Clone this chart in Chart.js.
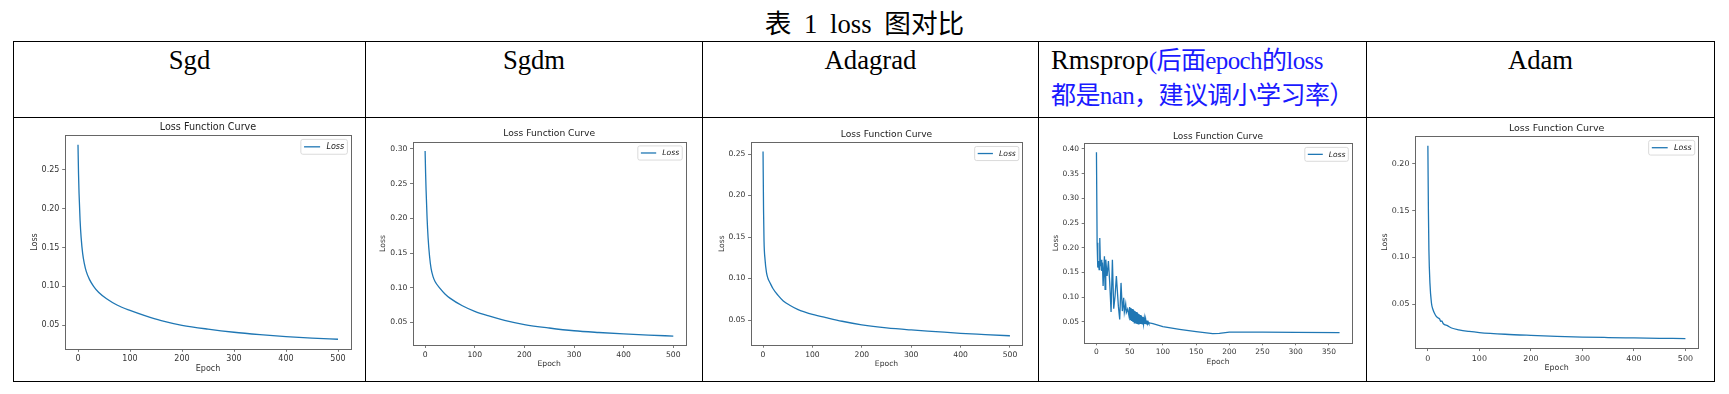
<!DOCTYPE html>
<html>
<head>
<meta charset="utf-8">
<script src="https://cdn.jsdelivr.net/npm/chart.js@4.4.0/dist/chart.umd.min.js"></script>
<style>
    body { margin: 0; background: #fff; width: 1729px; height: 394px; overflow: hidden; position: relative;
           font-family: "Liberation Serif", "Noto Sans CJK SC", serif; color: #000; }
    .title { position: absolute; left: 0; top: 9px; width: 1729px; text-align: center;
             font-size: 26.67px; line-height: 30px; word-spacing: 6px; }
    .cell { position: absolute; border: 1px solid #000; box-sizing: border-box; }
    .head { font-size: 26.67px; line-height: 35px; padding-top: 1px; text-align: center; }
    .head.left { text-align: left; padding-left: 12px; white-space: nowrap; }
    .note { color: #1a1aff; font-size: 25px; letter-spacing: -0.6px; }
    .plot { position: absolute; }
</style>
</head>
<body>
<div class="title">表 1 loss 图对比</div>
<div id="grid"></div>
<script>
    // table grid (px)
    var colEdges = [13, 365, 702, 1038, 1366, 1714];
    var rowEdges = [41, 117, 381];

    // values
    var sgdEpoch = [0, 1, 2, 4, 6, 9, 12, 16, 22, 30, 40, 55, 75, 100, 130, 160, 200, 250, 300, 350, 400, 450, 500];
    var sgdLoss = [0.282, 0.245, 0.220, 0.185, 0.163, 0.142, 0.130, 0.119, 0.109, 0.100, 0.092, 0.084, 0.076, 0.069, 0.062, 0.056, 0.050, 0.045, 0.041, 0.038, 0.0355, 0.0335, 0.032];

    var sgdmEpoch = [0, 1, 2, 4, 6, 9, 12, 16, 20, 30, 40, 50, 75, 100, 130, 160, 200, 250, 300, 350, 400, 450, 500];
    var sgdmLoss = [0.297, 0.265, 0.240, 0.200, 0.172, 0.145, 0.128, 0.116, 0.109, 0.099, 0.091, 0.085, 0.074, 0.066, 0.059, 0.053, 0.047, 0.042, 0.038, 0.0355, 0.0335, 0.0318, 0.0304];

    var adagradEpoch = [0, 1, 2, 4, 7, 10, 14, 20, 30, 41, 55, 70, 85, 100, 130, 160, 200, 250, 300, 350, 400, 450, 500];
    var adagradLoss = [0.253, 0.183, 0.145, 0.123, 0.107, 0.100, 0.095, 0.088, 0.080, 0.073, 0.0675, 0.0628, 0.0595, 0.0568, 0.0525, 0.0485, 0.0442, 0.0405, 0.038, 0.036, 0.034, 0.0325, 0.031];

    var rmsEpoch = [0, 1, 2, 3, 4, 5, 6, 7, 8, 9, 10, 12, 13, 14, 16, 18, 20, 22, 24, 26, 28, 30, 32, 33, 35, 37, 39, 41, 42, 44, 45, 47, 49,
        50, 51, 52, 53, 54, 55, 56, 57, 58, 59, 60, 61, 62, 63, 64, 65, 66, 67, 68, 69, 70, 71, 72, 73, 74, 75, 76, 77, 78, 79, 80,
        85, 100, 125, 150, 175, 185, 200, 250, 300, 366];
    var rmsLoss = [0.393, 0.210, 0.160, 0.173, 0.156, 0.220, 0.163, 0.176, 0.153, 0.170, 0.123, 0.183, 0.116, 0.176, 0.143, 0.173, 0.129, 0.070, 0.176, 0.077, 0.102, 0.143, 0.102, 0.082, 0.055, 0.129, 0.072, 0.099, 0.070, 0.086, 0.069, 0.076, 0.062,
        0.080, 0.055, 0.078, 0.052, 0.076, 0.050, 0.074, 0.048, 0.072, 0.047, 0.070, 0.046, 0.068, 0.046, 0.066, 0.046, 0.064, 0.046, 0.062, 0.046, 0.060, 0.046, 0.058, 0.046, 0.056, 0.046, 0.053, 0.046, 0.050, 0.047, 0.048,
        0.0467, 0.0406, 0.0352, 0.0305, 0.0264, 0.027, 0.0295, 0.0295, 0.029, 0.0285];

    var adamEpoch = [0, 1, 2, 4, 7, 10, 14, 18, 21, 23, 25, 27, 30, 38, 46, 60, 80, 100, 150, 200, 250, 300, 350, 400, 450, 500];
    var adamLoss = [0.2196, 0.151, 0.108, 0.0725, 0.051, 0.044, 0.039, 0.036, 0.035, 0.034, 0.0315, 0.032, 0.029, 0.027, 0.0245, 0.0225, 0.0208, 0.0196, 0.0178, 0.0166, 0.0156, 0.0148, 0.0143, 0.0139, 0.0135, 0.0131];

    var xTicks500 = [0, 100, 200, 300, 400, 500];
    var xTicks350 = [0, 50, 100, 150, 200, 250, 300, 350];
    var yTicksSgd = [0.05, 0.10, 0.15, 0.20, 0.25];
    var yTicksSgdm = [0.05, 0.10, 0.15, 0.20, 0.25, 0.30];
    var yTicksAdagrad = [0.05, 0.10, 0.15, 0.20, 0.25];
    var yTicksRms = [0.05, 0.10, 0.15, 0.20, 0.25, 0.30, 0.35, 0.40];
    var yTicksAdam = [0.05, 0.10, 0.15, 0.20];

    var headers = [
        'Sgd',
        'Sgdm',
        'Adagrad',
        'Rmsprop<span class="note">(后面epoch的loss<br>都是nan，建议调小学习率）</span>',
        'Adam'
    ];

    // plot area inside each canvas: l/r/t/b, title y, "Epoch" y, "Loss" x
    var panels = [
        { epoch: sgdEpoch, loss: sgdLoss, xTicks: xTicks500, yTicks: yTicksSgd, smooth: true, pos: { l: 51, r: 337, t: 17, b: 231, ty: 10, ey: 251, lx: 21 } },
        { epoch: sgdmEpoch, loss: sgdmLoss, xTicks: xTicks500, yTicks: yTicksSgdm, smooth: true, pos: { l: 46.7, r: 319.7, t: 23.7, b: 227.3, ty: 16, ey: 246, lx: 17 } },
        { epoch: adagradEpoch, loss: adagradLoss, xTicks: xTicks500, yTicks: yTicksAdagrad, smooth: true, pos: { l: 47.7, r: 319.3, t: 24.3, b: 227, ty: 17, ey: 246, lx: 19 } },
        { epoch: rmsEpoch, loss: rmsLoss, xTicks: xTicks350, yTicks: yTicksRms, smooth: false, pos: { l: 45.3, r: 312.7, t: 25.3, b: 224.7, ty: 18.7, ey: 243.7, lx: 16.7 } },
        { epoch: adamEpoch, loss: adamLoss, xTicks: xTicks500, yTicks: yTicksAdam, smooth: true, pos: { l: 48, r: 331.3, t: 18, b: 230.3, ty: 10.3, ey: 249.7, lx: 18 } }
    ];

    // matplotlib box + legend in upper right
    const mplFrame = {
        id: 'mplFrame',
        afterDraw: function (chart, args, opts) {
            const a = chart.chartArea, ctx = chart.ctx;
            ctx.save();
            ctx.strokeStyle = '#666';
            ctx.lineWidth = 1;
            ctx.strokeRect(Math.round(a.left) + 0.5, Math.round(a.top) + 0.5,
                Math.round(a.right) - Math.round(a.left), Math.round(a.bottom) - Math.round(a.top));

            const em = opts.em;
            const ds = chart.data.datasets[0];
            ctx.font = 'italic ' + em + 'px "DejaVu Sans"';
            const tw = ctx.measureText(ds.label).width;
            const pad = 0.4 * em, hl = 2 * em, gap = 0.8 * em;
            const bw = pad + hl + gap + tw + pad, bh = 2 * pad + em * 1.05;
            const bx = a.right - 0.45 * em - bw, by = a.top + 0.55 * em;
            ctx.beginPath();
            ctx.roundRect(bx, by, bw, bh, 0.25 * em);
            ctx.fillStyle = 'rgba(255,255,255,0.85)';
            ctx.fill();
            ctx.strokeStyle = '#d0d0d0';
            ctx.lineWidth = 0.8;
            ctx.stroke();
            ctx.beginPath();
            ctx.moveTo(bx + pad, by + bh / 2);
            ctx.lineTo(bx + pad + hl, by + bh / 2);
            ctx.strokeStyle = ds.borderColor;
            ctx.lineWidth = ds.borderWidth;
            ctx.stroke();
            ctx.fillStyle = '#222';
            ctx.textBaseline = 'middle';
            ctx.fillText(ds.label, bx + pad + hl + gap, by + bh / 2 + 0.5);
            ctx.restore();
        }
    };

    function padRange(vals) {
        var lo = Math.min.apply(null, vals), hi = Math.max.apply(null, vals);
        var m = (hi - lo) * 0.05;
        return [lo - m, hi + m];
    }

    Chart.defaults.font.family = '"DejaVu Sans"';
    Chart.defaults.color = '#333';

    var grid = document.getElementById('grid');
    for (let i = 0; i < 5; i++) {
        let x0 = colEdges[i], x1 = colEdges[i + 1];

        let head = document.createElement('div');
        head.className = 'cell head' + (i == 3 ? ' left' : '');
        head.style.left = x0 + 'px';
        head.style.top = rowEdges[0] + 'px';
        head.style.width = (x1 - x0 + 1) + 'px';
        head.style.height = (rowEdges[1] - rowEdges[0] + 1) + 'px';
        head.innerHTML = headers[i];
        grid.appendChild(head);

        let body = document.createElement('div');
        body.className = 'cell';
        body.style.left = x0 + 'px';
        body.style.top = rowEdges[1] + 'px';
        body.style.width = (x1 - x0 + 1) + 'px';
        body.style.height = (rowEdges[2] - rowEdges[1] + 1) + 'px';
        grid.appendChild(body);

        let w = x1 - x0 - 1, h = rowEdges[2] - rowEdges[1] - 1;
        let box = document.createElement('div');
        box.className = 'plot';
        box.style.left = (x0 + 1) + 'px';
        box.style.top = (rowEdges[1] + 1) + 'px';
        box.style.width = w + 'px';
        box.style.height = h + 'px';
        let cv = document.createElement('canvas');
        box.appendChild(cv);
        grid.appendChild(box);

        drawPanel(cv, panels[i], w, h);
    }

    function drawPanel(cv, p, w, h) {
        var q = p.pos;
        var s = (q.r - q.l) / 496;
        var fTick = 13.9 * s, fTitle = 16.67 * s;
        var lhTick = fTick * 1.2, lhTitle = fTitle * 1.2;
        var tick = 4.86 * s;
        var padL = q.lx - lhTick / 2;
        var padB = h - q.ey - lhTick / 2;
        var padR = w - q.r;
        var yW = q.l - padL;
        var xH = (h - padB) - q.b;
        var xr = padRange(p.epoch), yr = padRange(p.loss);

        var pts = [];
        for (let k = 0; k < p.epoch.length; k++) {
            pts.push({ x: p.epoch[k], y: p.loss[k] });
        }

        new Chart(cv, {
            type: 'line',
            data: {
                datasets: [{
                    label: 'Loss',
                    data: pts,
                    borderColor: '#1f77b4',
                    backgroundColor: '#1f77b4',
                    borderWidth: 1.3,
                    pointRadius: 0,
                    fill: false,
                    tension: p.smooth ? 0.4 : 0,
                    cubicInterpolationMode: p.smooth ? 'monotone' : 'default'
                }]
            },
            plugins: [mplFrame],
            options: {
                responsive: true,
                maintainAspectRatio: false,
                animation: false,
                events: [],
                layout: { padding: { left: padL, right: padR, top: 0, bottom: padB } },
                plugins: {
                    legend: { display: false },
                    tooltip: { enabled: false },
                    title: {
                        display: true,
                        fullSize: false,
                        text: 'Loss Function Curve',
                        color: '#222',
                        font: { size: fTitle, weight: 'normal' },
                        padding: { top: q.ty - lhTitle / 2, bottom: q.t - q.ty - lhTitle / 2 }
                    },
                    mplFrame: { em: fTick }
                },
                scales: {
                    x: {
                        type: 'linear',
                        min: xr[0],
                        max: xr[1],
                        afterBuildTicks: function (axis) {
                            axis.ticks = p.xTicks.map(function (v) { return { value: v }; });
                        },
                        afterFit: function (axis) { axis.height = xH; },
                        ticks: {
                            autoSkip: false, maxRotation: 0, padding: tick,
                            font: { size: fTick }, color: '#333',
                            callback: function (v) { return String(v); }
                        },
                        grid: { drawOnChartArea: false, drawTicks: true, tickLength: tick, color: '#555', lineWidth: 0.8 },
                        border: { display: false },
                        title: { display: true, text: 'Epoch', font: { size: fTick }, color: '#333', padding: 0 }
                    },
                    y: {
                        type: 'linear',
                        min: yr[0],
                        max: yr[1],
                        afterBuildTicks: function (axis) {
                            axis.ticks = p.yTicks.map(function (v) { return { value: v }; });
                        },
                        afterFit: function (axis) { axis.width = yW; },
                        ticks: {
                            padding: tick,
                            font: { size: fTick }, color: '#333',
                            callback: function (v) { return v.toFixed(2); }
                        },
                        grid: { drawOnChartArea: false, drawTicks: true, tickLength: tick, color: '#555', lineWidth: 0.8 },
                        border: { display: false },
                        title: { display: true, text: 'Loss', font: { size: fTick }, color: '#333', padding: 0 }
                    }
                }
            }
        });
    }
</script>
</body>
</html>
